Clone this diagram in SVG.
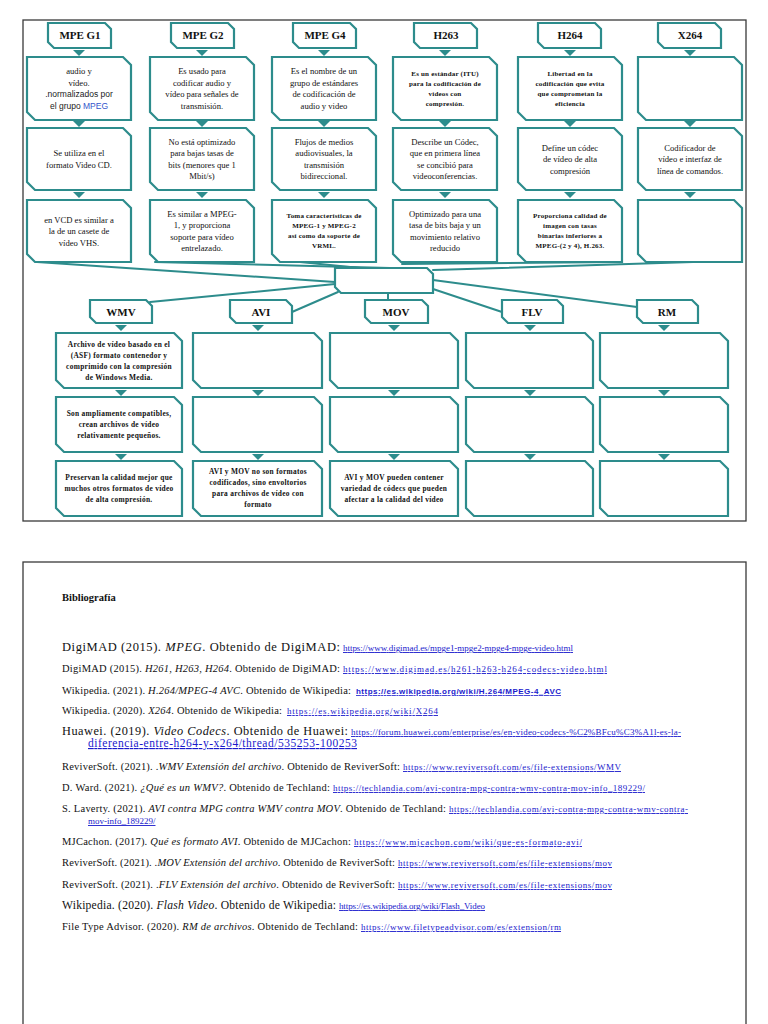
<svg xmlns="http://www.w3.org/2000/svg" width="768" height="1024" viewBox="0 0 768 1024">
<defs>
<style>
.frame{fill:#fff;stroke:#3a3a3a;stroke-width:1.3}
.bx{fill:#fff;stroke:#2d8c8c;stroke-width:2.2;stroke-linejoin:miter}
.tri{fill:#2d8c8c}
.conn line{stroke:#2d8c8c;stroke-width:2;stroke-linecap:round}
.h{font-family:"Liberation Serif","Times New Roman",serif;font-weight:bold;font-size:11px;fill:#111;text-anchor:middle}
.t{font-family:"Liberation Serif","Times New Roman",serif;font-size:8.6px;fill:#111;text-anchor:middle}
.s{font-family:"Liberation Serif","Times New Roman",serif;font-size:7px;font-weight:bold;fill:#111;text-anchor:middle;letter-spacing:0.2px}
.w{font-family:"Liberation Serif","Times New Roman",serif;font-size:7.4px;font-weight:bold;fill:#111;text-anchor:middle;letter-spacing:0.3px}
.sa{font-family:"Liberation Sans",Arial,sans-serif;font-size:8.5px;fill:#222;text-anchor:middle}
.b{font-family:"Liberation Serif","Times New Roman",serif;font-size:10.5px;fill:#111}
.lk{font-family:"Liberation Serif","Times New Roman",serif;font-size:9px;fill:#1a1acc;text-decoration:underline}
.lkb{font-family:"Liberation Sans",Arial,sans-serif;font-size:8px;font-weight:bold;fill:#1a1acc;text-decoration:underline}
.i{font-style:italic}
</style>
<path id="tr" d="M-6,0 H6 L0,6 Z"/>
</defs>
<rect width="768" height="1024" fill="#fff"/>
<rect class="frame" x="23" y="20" width="723" height="501"/>
<rect class="frame" x="23" y="562" width="723" height="470"/>

<g class="conn" id="connectors">
<line x1="37" y1="262" x2="335" y2="282"/>
<line x1="155" y1="262" x2="390" y2="268"/>
<line x1="300" y1="262" x2="360" y2="268"/>
<line x1="402" y1="264" x2="620" y2="262"/>
<line x1="433" y1="270" x2="693" y2="262"/>
<line x1="335" y1="284" x2="150" y2="302"/>
<line x1="338" y1="292" x2="292" y2="312"/>
<line x1="388" y1="293" x2="388" y2="300"/>
<line x1="433" y1="289" x2="502" y2="312"/>
<line x1="433" y1="280" x2="637" y2="307"/>
</g>

<g id="hub"><path class="bx" d="M335,268 H427 L433,274 V293 H341 L335,287 Z"/></g>

<g id="mpeg1">
<path class="bx" d="M48,23 H105 L111,29 V48 H54 L48,42 Z"/><text class="h" x="80" y="39">MPE G1</text>
<use href="#tr" x="79" y="50" class="tri"/>
<path class="bx" d="M27,57 H123 L131,65 V120 H35 L27,112 Z"/>
<text class="t" x="79" y="74">audio y</text><text class="t" x="79" y="85.5">vídeo.</text>
<text class="sa" x="79" y="97">.normalizados por</text><text class="sa" x="79" y="108.5">el grupo <tspan fill="#3355cc">MPEG</tspan></text>
<use href="#tr" x="79" y="121" class="tri"/>
<path class="bx" d="M27,128 H123 L131,136 V190 H35 L27,182 Z"/>
<text class="t" x="79" y="156">Se utiliza en el</text><text class="t" x="79" y="167.5">formato Video CD.</text>
<use href="#tr" x="79" y="192" class="tri"/>
<path class="bx" d="M27,200 H123 L131,208 V262 H35 L27,254 Z"/>
<text class="t" x="79" y="222.5">en VCD es similar a</text><text class="t" x="79" y="234">la de un casete de</text><text class="t" x="79" y="245.5">vídeo VHS.</text>
</g>

<g id="mpeg2">
<path class="bx" d="M171,23 H228 L234,29 V48 H177 L171,42 Z"/><text class="h" x="203" y="39">MPE G2</text>
<use href="#tr" x="202" y="50" class="tri"/>
<path class="bx" d="M150,57 H246 L254,65 V120 H158 L150,112 Z"/>
<text class="t" x="202" y="74">Es usado para</text><text class="t" x="202" y="85.5">codificar audio y</text><text class="t" x="202" y="97">vídeo para señales de</text><text class="t" x="202" y="108.5">transmisión.</text>
<use href="#tr" x="202" y="121" class="tri"/>
<path class="bx" d="M150,128 H246 L254,136 V190 H158 L150,182 Z"/>
<text class="t" x="202" y="144.5">No está optimizado</text><text class="t" x="202" y="156">para bajas tasas de</text><text class="t" x="202" y="167.5">bits (menores que 1</text><text class="t" x="202" y="179">Mbit/s)</text>
<use href="#tr" x="202" y="192" class="tri"/>
<path class="bx" d="M150,200 H246 L254,208 V262 H158 L150,254 Z"/>
<text class="t" x="202" y="216.5">Es similar a MPEG-</text><text class="t" x="202" y="228">1, y proporciona</text><text class="t" x="202" y="239.5">soporte para vídeo</text><text class="t" x="202" y="251">entrelazado.</text>
</g>

<g id="mpeg4">
<path class="bx" d="M293,23 H350 L356,29 V48 H299 L293,42 Z"/><text class="h" x="325" y="39">MPE G4</text>
<use href="#tr" x="324" y="50" class="tri"/>
<path class="bx" d="M272,57 H368 L376,65 V120 H280 L272,112 Z"/>
<text class="t" x="324" y="74">Es el nombre de un</text><text class="t" x="324" y="85.5">grupo de estándares</text><text class="t" x="324" y="97">de codificación de</text><text class="t" x="324" y="108.5">audio y video</text>
<use href="#tr" x="324" y="121" class="tri"/>
<path class="bx" d="M272,128 H368 L376,136 V190 H280 L272,182 Z"/>
<text class="t" x="324" y="144.5">Flujos de medios</text><text class="t" x="324" y="156">audiovisuales, la</text><text class="t" x="324" y="167.5">transmisión</text><text class="t" x="324" y="179">bidireccional.</text>
<use href="#tr" x="324" y="192" class="tri"/>
<path class="bx" d="M272,200 H368 L376,208 V262 H280 L272,254 Z"/>
<text class="s" x="324" y="218.3">Toma características de</text><text class="s" x="324" y="228.3">MPEG-1 y MPEG-2</text><text class="s" x="324" y="238.3">así como da soporte de</text><text class="s" x="324" y="248.3">VRML.</text>
</g>

<g id="h263">
<path class="bx" d="M414,23 H471 L477,29 V48 H420 L414,42 Z"/><text class="h" x="446" y="39">H263</text>
<use href="#tr" x="445" y="50" class="tri"/>
<path class="bx" d="M393,57 H489 L497,65 V120 H401 L393,112 Z"/>
<text class="s" x="445" y="75.8">Es un estándar (ITU)</text><text class="s" x="445" y="85.8">para la codificación de</text><text class="s" x="445" y="95.8">vídeos con</text><text class="s" x="445" y="105.8">compresión.</text>
<use href="#tr" x="445" y="121" class="tri"/>
<path class="bx" d="M393,128 H489 L497,136 V190 H401 L393,182 Z"/>
<text class="t" x="445" y="144.5">Describe un Códec,</text><text class="t" x="445" y="156">que en primera línea</text><text class="t" x="445" y="167.5">se concibió para</text><text class="t" x="445" y="179">videoconferencias.</text>
<use href="#tr" x="445" y="192" class="tri"/>
<path class="bx" d="M393,200 H489 L497,208 V262 H401 L393,254 Z"/>
<text class="t" x="445" y="216.5">Optimizado para una</text><text class="t" x="445" y="228">tasa de bits baja y un</text><text class="t" x="445" y="239.5">movimiento relativo</text><text class="t" x="445" y="251">reducido</text>
</g>

<g id="h264">
<path class="bx" d="M538,23 H595 L601,29 V48 H544 L538,42 Z"/><text class="h" x="570" y="39">H264</text>
<use href="#tr" x="570" y="50" class="tri"/>
<path class="bx" d="M518,57 H614 L622,65 V120 H526 L518,112 Z"/>
<text class="s" x="570" y="75.8">Libertad en la</text><text class="s" x="570" y="85.8">codificación que evita</text><text class="s" x="570" y="95.8">que comprometan la</text><text class="s" x="570" y="105.8">eficiencia</text>
<use href="#tr" x="570" y="121" class="tri"/>
<path class="bx" d="M518,128 H614 L622,136 V190 H526 L518,182 Z"/>
<text class="t" x="570" y="150.5">Define un códec</text><text class="t" x="570" y="162">de vídeo de alta</text><text class="t" x="570" y="173.5">compresión</text>
<use href="#tr" x="570" y="192" class="tri"/>
<path class="bx" d="M518,200 H614 L622,208 V262 H526 L518,254 Z"/>
<text class="s" x="570" y="218.3">Proporciona calidad de</text><text class="s" x="570" y="228.3">imagen con tasas</text><text class="s" x="570" y="238.3">binarias inferiores a</text><text class="s" x="570" y="248.3">MPEG-(2 y 4), H.263.</text>
</g>

<g id="x264">
<path class="bx" d="M658,23 H715 L721,29 V48 H664 L658,42 Z"/><text class="h" x="690" y="39">X264</text>
<use href="#tr" x="690" y="50" class="tri"/>
<path class="bx" d="M638,57 H734 L742,65 V120 H646 L638,112 Z"/>
<use href="#tr" x="690" y="121" class="tri"/>
<path class="bx" d="M638,128 H734 L742,136 V190 H646 L638,182 Z"/>
<text class="t" x="690" y="150.5">Codificador de</text><text class="t" x="690" y="162">vídeo e interfaz de</text><text class="t" x="690" y="173.5">línea de comandos.</text>
<use href="#tr" x="690" y="192" class="tri"/>
<path class="bx" d="M638,200 H734 L742,208 V262 H646 L638,254 Z"/>
</g>

<g id="wmv">
<path class="bx" d="M90,300 H146 L152,306 V323 H96 L90,317 Z"/><text class="h" x="121" y="316">WMV</text>
<use href="#tr" x="121" y="325" class="tri"/>
<path class="bx" d="M56,333 H174 L182,341 V388 H64 L56,380 Z"/>
<text class="w" x="119" y="346.5">Archivo de vídeo basado en el</text><text class="w" x="119" y="357.5">(ASF) formato contenedor y</text><text class="w" x="119" y="368.5">comprimido con la compresión</text><text class="w" x="119" y="379.5">de Windows Media.</text>
<use href="#tr" x="121" y="390" class="tri"/>
<path class="bx" d="M56,397 H174 L182,405 V452 H64 L56,444 Z"/>
<text class="w" x="119" y="416">Son ampliamente compatibles,</text><text class="w" x="119" y="427">crean archivos de vídeo</text><text class="w" x="119" y="438">relativamente pequeños.</text>
<use href="#tr" x="121" y="454" class="tri"/>
<path class="bx" d="M56,461 H174 L182,469 V516 H64 L56,508 Z"/>
<text class="w" x="119" y="479.5">Preservan la calidad mejor que</text><text class="w" x="119" y="490.5">muchos otros formatos de vídeo</text><text class="w" x="119" y="501.5">de alta compresión.</text>
</g>

<g id="avi">
<path class="bx" d="M230,300 H286 L292,306 V323 H236 L230,317 Z"/><text class="h" x="261" y="316">AVI</text>
<use href="#tr" x="258" y="325" class="tri"/>
<path class="bx" d="M193,333 H314 L322,341 V388 H201 L193,380 Z"/>
<use href="#tr" x="258" y="390" class="tri"/>
<path class="bx" d="M193,397 H314 L322,405 V452 H201 L193,444 Z"/>
<use href="#tr" x="258" y="454" class="tri"/>
<path class="bx" d="M193,461 H314 L322,469 V516 H201 L193,508 Z"/>
<text class="w" x="258" y="474">AVI y MOV no son formatos</text><text class="w" x="258" y="485">codificados, sino envoltorios</text><text class="w" x="258" y="496">para archivos de vídeo con</text><text class="w" x="258" y="507">formato</text>
</g>

<g id="mov">
<path class="bx" d="M365,300 H422 L428,306 V323 H371 L365,317 Z"/><text class="h" x="396" y="316">MOV</text>
<use href="#tr" x="394" y="325" class="tri"/>
<path class="bx" d="M330,333 H450 L458,341 V388 H338 L330,380 Z"/>
<use href="#tr" x="394" y="390" class="tri"/>
<path class="bx" d="M330,397 H450 L458,405 V452 H338 L330,444 Z"/>
<use href="#tr" x="394" y="454" class="tri"/>
<path class="bx" d="M330,461 H450 L458,469 V516 H338 L330,508 Z"/>
<text class="w" x="394" y="479.5">AVI y MOV pueden contener</text><text class="w" x="394" y="490.5">variedad de códecs que pueden</text><text class="w" x="394" y="501.5">afectar a la calidad del vídeo</text>
</g>

<g id="flv">
<path class="bx" d="M502,300 H557 L563,306 V323 H508 L502,317 Z"/><text class="h" x="532" y="316">FLV</text>
<use href="#tr" x="530" y="325" class="tri"/>
<path class="bx" d="M466,333 H585 L593,341 V388 H474 L466,380 Z"/>
<use href="#tr" x="530" y="390" class="tri"/>
<path class="bx" d="M466,397 H585 L593,405 V452 H474 L466,444 Z"/>
<use href="#tr" x="530" y="454" class="tri"/>
<path class="bx" d="M466,461 H585 L593,469 V516 H474 L466,508 Z"/>
</g>

<g id="rm">
<path class="bx" d="M637,300 H692 L698,306 V323 H643 L637,317 Z"/><text class="h" x="667" y="316">RM</text>
<use href="#tr" x="664" y="325" class="tri"/>
<path class="bx" d="M600,333 H720 L728,341 V388 H608 L600,380 Z"/>
<use href="#tr" x="664" y="390" class="tri"/>
<path class="bx" d="M600,397 H720 L728,405 V452 H608 L600,444 Z"/>
<use href="#tr" x="664" y="454" class="tri"/>
<path class="bx" d="M600,461 H720 L728,469 V516 H608 L600,508 Z"/>
</g>

<g id="bibliografia">
<text class="b" x="62" y="601" font-weight="bold">Bibliografía</text>
<text class="b" x="62" y="651" style="font-size:12.5px" textLength="278" lengthAdjust="spacing">DigiMAD (2015). <tspan class="i">MPEG</tspan>. Obtenido de DigiMAD: </text>
<text class="lk" x="343" y="651" textLength="230" lengthAdjust="spacing">https://www.digimad.es/mpge1-mpge2-mpge4-mpge-video.html</text>
<text class="b" x="62" y="672" textLength="278" lengthAdjust="spacing">DigiMAD (2015). <tspan class="i">H261, H263, H264</tspan>. Obtenido de DigiMAD: </text>
<text class="lk" x="343" y="672" textLength="264" lengthAdjust="spacing">https://www.digimad.es/h261-h263-h264-codecs-video.html</text>
<text class="b" x="62" y="694" textLength="289" lengthAdjust="spacing">Wikipedia. (2021). <tspan class="i">H.264/MPEG-4 AVC</tspan>. Obtenido de Wikipedia: </text>
<text class="lkb" x="356" y="694" textLength="205" lengthAdjust="spacing">https://es.wikipedia.org/wiki/H.264/MPEG-4_AVC</text>
<text class="b" x="62" y="714" textLength="220" lengthAdjust="spacing">Wikipedia. (2020). <tspan class="i">X264</tspan>. Obtenido de Wikipedia: </text>
<text class="lk" x="287" y="714" textLength="151" lengthAdjust="spacing">https://es.wikipedia.org/wiki/X264</text>
<text class="b" x="62" y="735" style="font-size:12.3px" textLength="286" lengthAdjust="spacing">Huawei. (2019). <tspan class="i">Video Codecs</tspan>. Obtenido de Huawei: </text>
<text class="lk" x="351" y="735" textLength="330" lengthAdjust="spacing">https://forum.huawei.com/enterprise/es/en-video-codecs-%C2%BFcu%C3%A1l-es-la-</text>
<text class="lk" x="88" y="747" style="font-size:11.5px" textLength="269" lengthAdjust="spacing">diferencia-entre-h264-y-x264/thread/535253-100253</text>
<text class="b" x="62" y="770" textLength="338" lengthAdjust="spacing">ReviverSoft. (2021). .<tspan class="i">WMV Extensión del archivo</tspan>. Obtenido de ReviverSoft: </text>
<text class="lk" x="403" y="770" textLength="218" lengthAdjust="spacing">https://www.reviversoft.com/es/file-extensions/WMV</text>
<text class="b" x="62" y="791" textLength="268" lengthAdjust="spacing">D. Ward. (2021). <tspan class="i">¿Qué es un WMV?</tspan>. Obtenido de Techland: </text>
<text class="lk" x="333" y="791" textLength="312" lengthAdjust="spacing">https://techlandia.com/avi-contra-mpg-contra-wmv-contra-mov-info_189229/</text>
<text class="b" x="62" y="812" textLength="384" lengthAdjust="spacing">S. Laverty. (2021). <tspan class="i">AVI contra MPG contra WMV contra MOV</tspan>. Obtenido de Techland: </text>
<text class="lk" x="449" y="812" textLength="239" lengthAdjust="spacing">https://techlandia.com/avi-contra-mpg-contra-wmv-contra-</text>
<text class="lk" x="88" y="824">mov-info_189229/</text>
<text class="b" x="62" y="845" textLength="289" lengthAdjust="spacing">MJCachon. (2017). <tspan class="i">Qué es formato AVI</tspan>. Obtenido de MJCachon: </text>
<text class="lk" x="354" y="845" textLength="228" lengthAdjust="spacing">https://www.mjcachon.com/wiki/que-es-formato-avi/</text>
<text class="b" x="62" y="866" textLength="333" lengthAdjust="spacing">ReviverSoft. (2021). .<tspan class="i">MOV Extensión del archivo</tspan>. Obtenido de ReviverSoft: </text>
<text class="lk" x="398" y="866" textLength="214" lengthAdjust="spacing">https://www.reviversoft.com/es/file-extensions/mov</text>
<text class="b" x="62" y="888" textLength="333" lengthAdjust="spacing">ReviverSoft. (2021). .<tspan class="i">FLV Extensión del archivo</tspan>. Obtenido de ReviverSoft: </text>
<text class="lk" x="398" y="888" textLength="214" lengthAdjust="spacing">https://www.reviversoft.com/es/file-extensions/mov</text>
<text class="b" x="62" y="909" style="font-size:11.6px" textLength="274" lengthAdjust="spacing">Wikipedia. (2020). <tspan class="i">Flash Video</tspan>. Obtenido de Wikipedia: </text>
<text class="lk" x="339" y="909" textLength="146" lengthAdjust="spacing">https://es.wikipedia.org/wiki/Flash_Video</text>
<text class="b" x="62" y="930" textLength="296" lengthAdjust="spacing">File Type Advisor. (2020). <tspan class="i">RM de archivos</tspan>. Obtenido de Techland: </text>
<text class="lk" x="361" y="930" textLength="200" lengthAdjust="spacing">https://www.filetypeadvisor.com/es/extension/rm</text>
</g>
</svg>
